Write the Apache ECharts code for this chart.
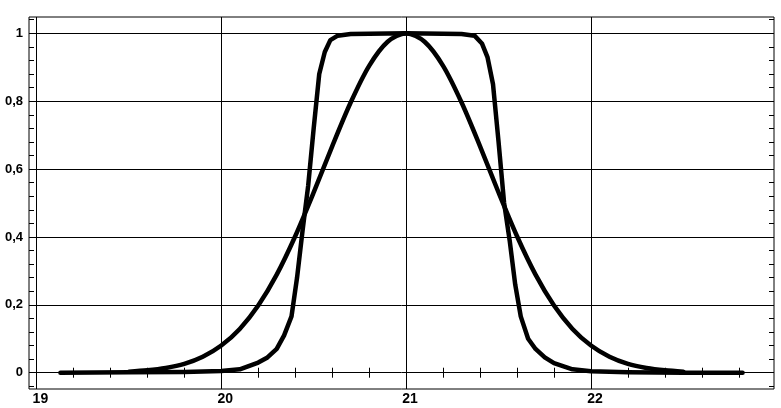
<!DOCTYPE html>
<html>
<head>
<meta charset="utf-8">
<script src="https://cdn.jsdelivr.net/npm/echarts@6/dist/echarts.min.js"></script>
<style>
html,body{margin:0;padding:0;background:#fff;}
#chart{width:781px;height:408px;}
</style>
</head>
<body>
<div id="chart"></div>
<script>
// Gaussian-like curve
var gaussX = [19.5,19.6,19.7,19.8,19.9,20.0,20.1,20.2,20.3,20.4,20.5,20.6,20.7,20.8,20.9,21.0,21.1,21.2,21.3,21.4,21.5,21.6,21.7,21.8,21.9,22.0,22.1,22.2,22.3,22.4,22.5];
var gaussY = [0.003,0.007,0.014,0.026,0.047,0.080,0.129,0.198,0.289,0.402,0.531,0.667,0.796,0.904,0.975,1.0,0.975,0.904,0.796,0.667,0.531,0.402,0.289,0.198,0.129,0.080,0.047,0.026,0.014,0.007,0.003];
// Flat-top curve
var flatX = [19.13,19.5,19.8,20.0,20.1,20.2,20.25,20.3,20.34,20.38,20.41,20.44,20.47,20.50,20.53,20.56,20.59,20.63,20.7,21.0,21.3,21.37,21.41,21.44,21.47,21.50,21.53,21.56,21.59,21.62,21.66,21.7,21.75,21.8,21.9,22.0,22.2,22.5,22.82];
var flatY = [0,0.001,0.002,0.005,0.01,0.03,0.045,0.07,0.11,0.166,0.28,0.42,0.55,0.72,0.88,0.945,0.98,0.993,0.998,1.0,0.998,0.993,0.97,0.93,0.85,0.68,0.5,0.39,0.26,0.166,0.1,0.07,0.045,0.028,0.01,0.004,0.001,0,0];
// Axis labels / grid positions
var xLabels = [19,20,21,22];
var yLabels = [0,0.2,0.4,0.6,0.8,1];

var X_MIN = 18.96, X_MAX = 22.99, Y_MIN = -0.048, Y_MAX = 1.048;
var xTicks = [];
for (var i = 0; i <= 19; i++) xTicks.push(+(19 + i*0.2).toFixed(2));
var yTicks = [];
for (var j = 0; j <= 27; j++) yTicks.push(+(-0.04 + j*0.04).toFixed(2));

function pairs(xs, ys){ return xs.map(function(x,k){ return [x, ys[k]]; }); }

var fontY = {fontFamily:'Liberation Sans', fontWeight:'bold', fontSize:13, color:'#000'};
var fontX = {fontFamily:'Liberation Sans', fontWeight:'bold', fontSize:14, color:'#000'};
var chart = echarts.init(document.getElementById('chart'), null, {renderer:'canvas'});
var gridLines = xLabels.map(function(v){ return {xAxis:v}; }).concat(yLabels.map(function(v){ return {yAxis:v}; }));

chart.setOption({
  animation:false,
  backgroundColor:'#fff',
  grid:{left:29, top:17, right:7, bottom:19, show:true, borderColor:'#000', borderWidth:1, backgroundColor:'transparent', containLabel:false},
  xAxis:[
    {type:'value', min:X_MIN, max:X_MAX, position:'bottom',
     axisLine:{show:false}, splitLine:{show:false},
     axisTick:{show:true, inside:true, length:5, customValues:xTicks, lineStyle:{color:'#000', width:1}},
     axisLabel:Object.assign({show:true, customValues:xLabels, margin:3, padding:[0,0,0,8], formatter:function(v){return String(v);}}, fontX)},
    {type:'value', min:X_MIN, max:X_MAX, position:'top',
     axisLine:{show:false}, splitLine:{show:false},
     axisTick:{show:true, inside:true, length:5, customValues:xTicks, lineStyle:{color:'#000', width:1}},
     axisLabel:{show:false}}
  ],
  yAxis:[
    {type:'value', min:Y_MIN, max:Y_MAX, position:'left',
     axisLine:{show:false}, splitLine:{show:false},
     axisTick:{show:true, inside:true, length:5, customValues:yTicks, lineStyle:{color:'#000', width:1}},
     axisLabel:Object.assign({show:true, customValues:yLabels, margin:6, formatter:function(v){return String(+v.toFixed(1)).replace('.', ',');}}, fontY)},
    {type:'value', min:Y_MIN, max:Y_MAX, position:'right',
     axisLine:{show:false}, splitLine:{show:false},
     axisTick:{show:true, inside:true, length:5, customValues:yTicks, lineStyle:{color:'#000', width:1}},
     axisLabel:{show:false}}
  ],
  series:[
    {type:'line', z:1, silent:true, data:[[X_MIN, Y_MIN]], showSymbol:false, symbol:'none', lineStyle:{width:0},
     markLine:{silent:true, symbol:['none','none'], label:{show:false}, animation:false,
       lineStyle:{color:'#000', width:1, type:'solid'}, emphasis:{disabled:true}, data:gridLines}},
    {type:'line', z:3, data:pairs(gaussX, gaussY), showSymbol:false, symbol:'none', smooth:0.3,
     lineStyle:{color:'#000', width:4.5, cap:'round', join:'round'}},
    {type:'line', z:3, data:pairs(flatX, flatY), showSymbol:false, symbol:'none', smooth:false,
     lineStyle:{color:'#000', width:4.5, cap:'round', join:'round'}}
  ]
});
</script>
</body>
</html>
